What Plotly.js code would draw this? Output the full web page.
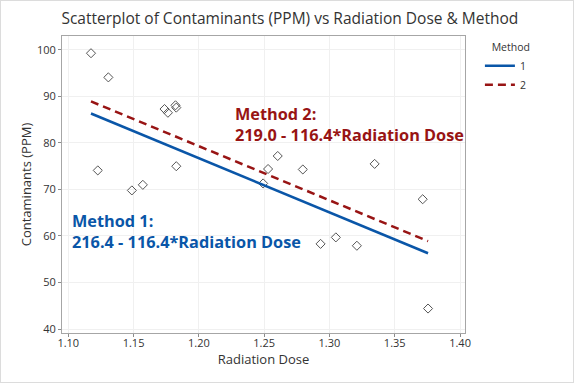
<!DOCTYPE html>
<html>
<head>
<meta charset="utf-8">
<script src="https://cdn.plot.ly/plotly-3.0.1.min.js"></script>
<style>
html,body{margin:0;padding:0;background:#fff;}
#chart{width:572px;height:381px;border:1px solid #dcdcdc;}
</style>
</head>
<body>
<div id="chart"></div>
<script>
// Scatter data (Radiation Dose vs Contaminants)
const doseValues = [1.1174, 1.1307, 1.1226, 1.1737, 1.1763, 1.1821, 1.1827, 1.1827, 1.1487, 1.1571,
                    1.2492, 1.2530, 1.2604, 1.2796, 1.2932, 1.3049, 1.3210, 1.3346, 1.3714, 1.3755];
const contaminantValues = [99.3, 94.1, 74.1, 87.3, 86.5, 88.1, 87.6, 75.0, 69.8, 71.0,
                           71.3, 74.4, 77.2, 74.3, 58.3, 59.7, 57.9, 75.5, 67.9, 44.4];
// Fitted line equations per method
const methodNames = ["1", "2"];
const intercepts = [216.4, 219.0];
const slope = -116.4;
const fitRange = [1.1174, 1.3755];
const xTicks = [1.10, 1.15, 1.20, 1.25, 1.30, 1.35, 1.40];
const yTicks = [40, 50, 60, 70, 80, 90, 100];

const blue = '#0a56a8';
const red = '#981414';

const traces = [
  {
    x: doseValues, y: contaminantValues, type: 'scatter', mode: 'markers',
    marker: {symbol: 'diamond-open', size: 7, color: '#555555', line: {width: 1, color: '#555555'}},
    showlegend: false, hoverinfo: 'x+y'
  },
  {
    x: fitRange, y: fitRange.map(v => intercepts[0] + slope * v), type: 'scatter', mode: 'lines',
    name: methodNames[0], line: {color: blue, width: 2.5}
  },
  {
    x: fitRange, y: fitRange.map(v => intercepts[1] + slope * v), type: 'scatter', mode: 'lines',
    name: methodNames[1], line: {color: red, width: 2.5, dash: '8px,5px'}
  }
];

const fontFam = '"Open Sans", "Noto Sans", sans-serif';
const axisCommon = {
  showline: true, mirror: true, linecolor: '#a6a6a6', linewidth: 1,
  showgrid: true, gridcolor: '#f0f0f0', gridwidth: 1,
  ticks: 'outside', ticklen: 3, tickcolor: '#8c8c8c',
  zeroline: false, tickfont: {family: fontFam, size: 11, color: '#333'}
};

function eqText(name, eq, color, x, y) {
  return {xref: 'x', yref: 'y', x: x, y: y, xanchor: 'left', yanchor: 'middle', align: 'left',
          showarrow: false, text: '<b>' + name + '</b><br><b>' + eq + '</b>',
          font: {family: fontFam, size: 16.3, color: color}};
}

const layout = {
  width: 572, height: 381,
  margin: {l: 61, r: 108, t: 35, b: 49},
  paper_bgcolor: '#fff', plot_bgcolor: '#fff',
  font: {family: fontFam, color: '#333'},
  title: {text: 'Scatterplot of Contaminants (PPM) vs Radiation Dose & Method',
          font: {family: fontFam, size: 15.5, color: '#333'}, x: 0.505, xanchor: 'center', y: 0.955, yanchor: 'middle'},
  xaxis: Object.assign({}, axisCommon, {
    range: [1.0952, 1.4038], tickvals: xTicks, ticktext: xTicks.map(v => v.toFixed(2)),
    ticklabelstandoff: -3,
    title: {text: 'Radiation Dose', font: {family: fontFam, size: 13, color: '#333'}, standoff: 4}
  }),
  yaxis: Object.assign({}, axisCommon, {
    range: [39.14, 103.0], tickvals: yTicks,
    title: {text: 'Contaminants (PPM)', font: {family: fontFam, size: 13, color: '#333'}, standoff: 2}
  }),
  legend: {
    x: 1.037, xanchor: 'left', y: 0.995, yanchor: 'top',
    title: {text: 'Method', side: 'top right', font: {family: fontFam, size: 10.5, color: '#333'}},
    font: {family: fontFam, size: 10.5, color: '#333'},
    tracegroupgap: 0, bgcolor: 'rgba(0,0,0,0)'
  },
  annotations: [
    eqText('Method 2:', '219.0 - 116.4*Radiation Dose', red, 1.2262, 83.9),
    eqText('Method 1:', '216.4 - 116.4*Radiation Dose', blue, 1.1015, 61.0)
  ]
};

Plotly.newPlot('chart', traces, layout, {displayModeBar: false, staticPlot: true});
</script>
</body>
</html>
